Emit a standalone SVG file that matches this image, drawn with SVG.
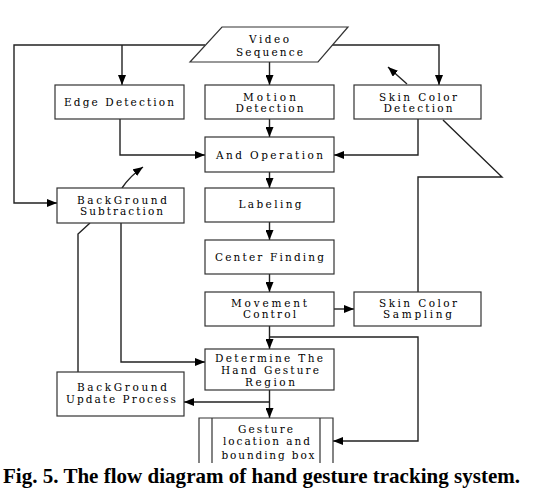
<svg xmlns="http://www.w3.org/2000/svg" width="539" height="495" viewBox="0 0 539 495">
<style>
.box{fill:#fff;stroke:#333;stroke-width:1.2}
.t{font-family:"DejaVu Serif","Liberation Serif",serif;font-size:10.5px;fill:#000;text-anchor:middle}
.c{fill:none;stroke:#222;stroke-width:1.4}
.cap{font-family:"Liberation Serif","Times New Roman",serif;font-size:21px;font-weight:bold;fill:#000}
</style>
<defs>
<marker id="ah" viewBox="0 0 10 8" refX="10" refY="4" markerWidth="10" markerHeight="8" markerUnits="userSpaceOnUse" orient="auto">
<path d="M0,0 L10,4 L0,8 Z" fill="#000"/>
</marker>
</defs>
<rect width="539" height="495" fill="#fff"/>

<g id="connectors">
<path class="c" d="M205,45 H14 V203 H57" marker-end="url(#ah)"/>
<path class="c" d="M122,45 V85" marker-end="url(#ah)"/>
<path class="c" d="M330,45 H439 V85" marker-end="url(#ah)"/>
<path class="c" d="M269.5,62 V85" marker-end="url(#ah)"/>
<path class="c" d="M269.5,119 V137" marker-end="url(#ah)"/>
<path class="c" d="M269.5,172 V188" marker-end="url(#ah)"/>
<path class="c" d="M269.5,222 V240" marker-end="url(#ah)"/>
<path class="c" d="M269.5,274 V292" marker-end="url(#ah)"/>
<path class="c" d="M269.5,326 V349" marker-end="url(#ah)"/>
<path class="c" d="M269.5,390 V418" marker-end="url(#ah)"/>
<path class="c" d="M120,119 V155 H205" marker-end="url(#ah)"/>
<path class="c" d="M418,119 V155 H334" marker-end="url(#ah)"/>
<path class="c" d="M443,120 L502,177 H418 V292"/>
<path class="c" d="M407,84 L388,67" marker-end="url(#ah)"/>
<path class="c" d="M122,188 Q130,176 143,167" marker-end="url(#ah)"/>
<path class="c" d="M121,223 V362 H205" marker-end="url(#ah)"/>
<path class="c" d="M269.5,402 H184" marker-end="url(#ah)"/>
<path class="c" d="M78,372 V234 L90,223"/>
<path class="c" d="M334,309 H354" marker-end="url(#ah)"/>
<path class="c" d="M269.5,337 H418 V441 H333" marker-end="url(#ah)"/>
</g>

<g id="video">
<path class="box" d="M222,27 H348 L318,62 H190 Z"/>
<text class="t" x="269" y="43" textLength="40">Video</text>
<text class="t" x="269.5" y="56" textLength="67">Sequence</text>
</g>
<g id="edge">
<rect class="box" x="55" y="85" width="129" height="34"/>
<text class="t" x="119" y="106" textLength="110">Edge Detection</text>
</g>
<g id="motion">
<rect class="box" x="205" y="85" width="129" height="34"/>
<text class="t" x="269.5" y="101" textLength="53">Motion</text>
<text class="t" x="269.5" y="112" textLength="68">Detection</text>
</g>
<g id="skin-detect">
<rect class="box" x="354" y="85" width="127" height="34"/>
<text class="t" x="418" y="101" textLength="78">Skin Color</text>
<text class="t" x="418" y="112" textLength="69">Detection</text>
</g>
<g id="and">
<rect class="box" x="205" y="137" width="129" height="35"/>
<text class="t" x="269.5" y="159" textLength="107">And Operation</text>
</g>
<g id="bgsub">
<rect class="box" x="57" y="188" width="127" height="35"/>
<text class="t" x="122" y="204" textLength="90">BackGround</text>
<text class="t" x="121.5" y="215" textLength="83">Subtraction</text>
</g>
<g id="labeling">
<rect class="box" x="205" y="188" width="129" height="34"/>
<text class="t" x="270" y="208" textLength="63">Labeling</text>
</g>
<g id="center">
<rect class="box" x="205" y="240" width="129" height="34"/>
<text class="t" x="269.5" y="261" textLength="109">Center Finding</text>
</g>
<g id="movement">
<rect class="box" x="205" y="292" width="129" height="34"/>
<text class="t" x="269" y="307" textLength="76">Movement</text>
<text class="t" x="269.5" y="318" textLength="53">Control</text>
</g>
<g id="skin-sample">
<rect class="box" x="354" y="292" width="127" height="34"/>
<text class="t" x="418" y="307" textLength="78">Skin Color</text>
<text class="t" x="417.5" y="318" textLength="69">Sampling</text>
</g>
<g id="determine">
<rect class="box" x="205" y="349" width="129" height="41"/>
<text class="t" x="269" y="362" textLength="108">Determine The</text>
<text class="t" x="270" y="374" textLength="98">Hand Gesture</text>
<text class="t" x="270" y="386" textLength="50">Region</text>
</g>
<g id="bgupdate">
<rect class="box" x="57" y="372" width="127" height="44"/>
<text class="t" x="122" y="391" textLength="90">BackGround</text>
<text class="t" x="121" y="403" textLength="110">Update Process</text>
</g>
<g id="gesture">
<path class="box" d="M199,463 V418 H333 V463"/>
<path class="c" d="M212,418 V463 M320,418 V463" style="stroke:#333;stroke-width:1.2"/>
<text class="t" x="265.5" y="433" textLength="55">Gesture</text>
<text class="t" x="266.5" y="445" textLength="87">location and</text>
<text class="t" x="268" y="459" textLength="93">bounding box</text>
</g>

<text class="cap" x="3" y="483" textLength="517">Fig. 5. The flow diagram of hand gesture tracking system.</text>
</svg>
